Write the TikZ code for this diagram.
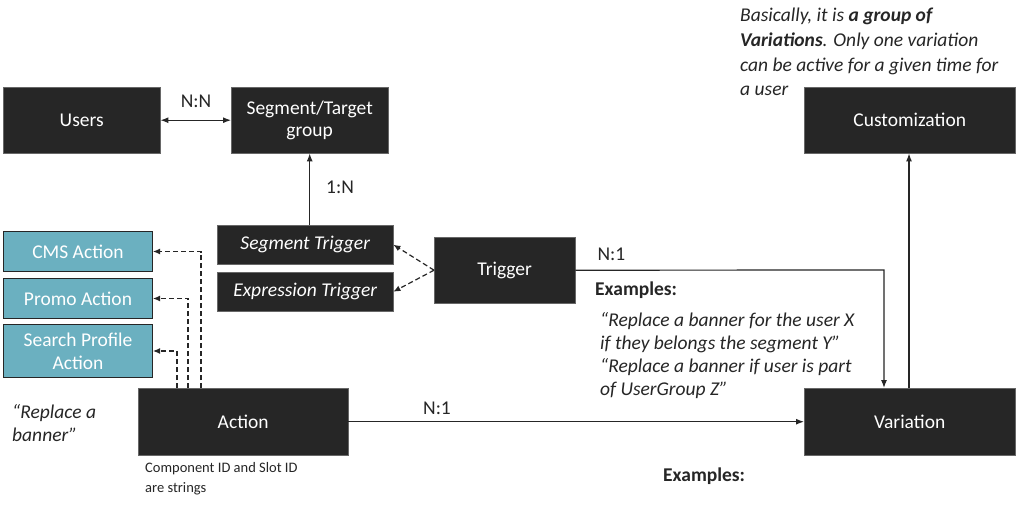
\documentclass[tikz,border=0pt]{standalone}
\usepackage{fontspec}
\setmainfont{Carlito}
\usetikzlibrary{arrows.meta}
\definecolor{boxdark}{HTML}{262626}
\definecolor{teal}{HTML}{6BB0C0}
\begin{document}
\begin{tikzpicture}[x=1pt,y=-1pt,
  dbox/.style={draw=boxdark!70!white, fill=boxdark, text=white, font=\fontsize{19.5}{22.5}\selectfont, align=center, inner sep=0pt, anchor=north west},
  tbox/.style={draw=boxdark, line width=1pt, fill=teal, text=white, font=\fontsize{19.5}{23}\selectfont, align=center, inner sep=0pt, anchor=north west},
  conn/.style={-{Latex[length=8pt,width=6pt]}, line width=1.2pt, draw=boxdark},
  dconn/.style={-{Latex[length=7pt,width=6pt]}, line width=1.2pt, draw=boxdark, dash pattern=on 5pt off 3pt},
  lbl/.style={font=\fontsize{19.5}{22}\selectfont, text=boxdark},
  note/.style={font=\fontsize{19.5}{24.7}\selectfont\itshape, text=boxdark, align=left, anchor=north west, inner sep=0pt}
]
\useasboundingbox (0,0) rectangle (1024,506);
\fill[white] (0,0) rectangle (1024,506);

\node[dbox, minimum width=157pt, minimum height=66pt] (users) at (3,87) {Users};
\node[dbox, minimum width=157pt, minimum height=66pt] (seg) at (231,87) {Segment/Target\\group};
\node[dbox, minimum width=211pt, minimum height=66pt] (cust) at (804,87) {Customization};
\node[dbox, minimum width=176pt, minimum height=39pt, font=\fontsize{19.5}{22}\selectfont\itshape] (strig) at (217,225) {Segment Trigger};
\node[dbox, minimum width=176pt, minimum height=39pt, font=\fontsize{19.5}{22}\selectfont\itshape] (etrig) at (217,272) {Expression Trigger};
\node[dbox, minimum width=141pt, minimum height=66pt] (trig) at (434,237) {Trigger};
\node[tbox, minimum width=149pt, minimum height=40pt] (cms) at (3,231) {CMS Action};
\node[tbox, minimum width=149pt, minimum height=40pt] (promo) at (3,278) {Promo Action};
\node[tbox, minimum width=149pt, minimum height=53pt] (search) at (3,324) {Search Profile\\Action};
\node[dbox, minimum width=210pt, minimum height=67pt] (action) at (138,388) {Action};
\node[dbox, minimum width=211pt, minimum height=67pt] (var) at (804,388) {Variation};

% connectors
\draw[conn, {Latex[length=8pt,width=6pt]}-{Latex[length=8pt,width=6pt]}] (users.east) -- (seg.west);
\node[lbl] (nn) at (196,101) {N:N};
\draw[conn] (strig.north -| seg.south) -- (seg.south);
\node[lbl] (onen) at (340,187) {1:N};
\draw[dconn] (trig.west) -- (strig.east);
\draw[dconn] (trig.west) -- (etrig.east);
\coordinate (tcorner) at (884,270);
\draw[conn] (trig.east) -- (tcorner) -- (var.north -| tcorner);
\node[lbl, anchor=west] (n1a) at (594,254) {N:1};
\coordinate (vx) at (909,388);
\draw[conn] (vx) -- (vx |- cust.south);
\draw[conn] (action.east) -- (var.west);
\node[lbl] (n1b) at (437,408) {N:1};

% dashed action links
\coordinate (a1) at (201,388);
\coordinate (a2) at (188,388);
\coordinate (a3) at (177,388);
\draw[dconn] (a1) -- (a1 |- cms.east) -- (cms.east);
\draw[dconn] (a2) -- (a2 |- promo.east) -- (promo.east);
\draw[dconn] (a3) -- (a3 |- search.east) -- (search.east);

% notes
\node[note] (basic) at (740,8) {Basically, it is \textbf{a group of}\\\textbf{Variations}. Only one variation\\can be active for a given time for\\a user};
\node[font=\fontsize{19.5}{22}\selectfont\bfseries, text=boxdark, anchor=west, inner sep=0pt] (ex1) at (595,290) {Examples:};
\node[font=\fontsize{19.5}{23}\selectfont\itshape, text=boxdark, align=left, anchor=north west, inner sep=0pt] (exq) at (600,312) {“Replace a banner for the user X\\if they belongs the segment Y”\\“Replace a banner if user is part\\of UserGroup Z”};
\node[font=\fontsize{19.5}{22}\selectfont\bfseries, text=boxdark, anchor=west, inner sep=0pt] (ex2) at (663,476) {Examples:};
\node[font=\fontsize{19.5}{23}\selectfont\itshape, text=boxdark, align=left, anchor=north west, inner sep=0pt] (repl) at (12,404) {“Replace a\\banner”};
\node[font=\fontsize{14.5}{20}\selectfont, text=boxdark, align=left, anchor=north west, inner sep=0pt] (comp) at (145,462) {Component ID and Slot ID\\are strings};
\end{tikzpicture}
\end{document}
